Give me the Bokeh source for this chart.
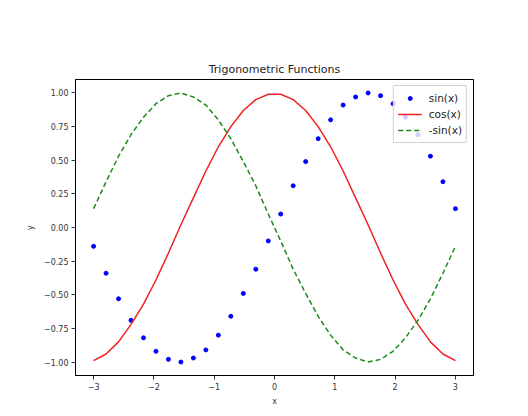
from bokeh.plotting import figure
from bokeh.models import ColumnDataSource, FixedTicker, CustomJSTickFormatter, Legend, LegendItem, Range1d
from bokeh.embed import file_html
from bokeh.resources import INLINE

x_vals = [-3.000, -2.793, -2.586, -2.379, -2.172, -1.966, -1.759, -1.552, -1.345, -1.138,
          -0.931, -0.724, -0.517, -0.310, -0.103, 0.103, 0.310, 0.517, 0.724, 0.931,
          1.138, 1.345, 1.552, 1.759, 1.966, 2.172, 2.379, 2.586, 2.793, 3.000]
sin_vals = [-0.14, -0.34, -0.53, -0.69, -0.82, -0.92, -0.98, -1.00, -0.97, -0.91,
            -0.80, -0.66, -0.49, -0.31, -0.10, 0.10, 0.31, 0.49, 0.66, 0.80,
            0.91, 0.97, 1.00, 0.98, 0.92, 0.82, 0.69, 0.53, 0.34, 0.14]
cos_vals = [-0.99, -0.94, -0.85, -0.72, -0.57, -0.39, -0.19, 0.02, 0.22, 0.42,
            0.60, 0.75, 0.87, 0.95, 0.99, 0.99, 0.95, 0.87, 0.75, 0.60,
            0.42, 0.22, 0.02, -0.19, -0.39, -0.57, -0.72, -0.85, -0.94, -0.99]
neg_sin_vals = [0.14, 0.34, 0.53, 0.69, 0.82, 0.92, 0.98, 1.00, 0.97, 0.91,
                0.80, 0.66, 0.49, 0.31, 0.10, -0.10, -0.31, -0.49, -0.66, -0.80,
                -0.91, -0.97, -1.00, -0.98, -0.92, -0.82, -0.69, -0.53, -0.34, -0.14]
series_labels = ["sin(x)", "cos(x)", "-sin(x)"]
x_ticks = [-3, -2, -1, 0, 1, 2, 3]
y_ticks = [-1.0, -0.75, -0.5, -0.25, 0.0, 0.25, 0.5, 0.75, 1.0]

src = ColumnDataSource(dict(x=x_vals, s=sin_vals, c=cos_vals, ns=neg_sin_vals))

FONT = "DejaVu Sans"
p = figure(width=520, height=408, output_backend="svg", toolbar_location=None,
           x_range=Range1d(-3.3, 3.3), y_range=Range1d(-1.1, 1.1),
           min_border_left=75, min_border_right=47, min_border_top=79, min_border_bottom=33,
           title="Trigonometric Functions")
p.background_fill_color = "white"
p.border_fill_color = "white"
p.outline_line_color = "black"
p.outline_line_width = 1
p.grid.visible = False

p.title.align = "center"
p.title.text_font = FONT
p.title.text_font_size = "11px"
p.title.text_font_style = "normal"
p.title.text_color = "#222222"
p.title.standoff = 7

r_sin = p.scatter("x", "s", source=src, size=4, color="#0000ff")
r_cos = p.line("x", "c", source=src, line_color="#ee2222", line_width=1.5)
r_nsin = p.line("x", "ns", source=src, line_color="#1a8a1a", line_width=1.5, line_dash="5 3")

for ax in (p.xaxis[0], p.yaxis[0]):
    ax.major_label_text_font = FONT
    ax.major_label_text_font_size = "8px"
    ax.major_label_text_color = "#333333"
    ax.axis_label_text_font = FONT
    ax.axis_label_text_font_size = "8px"
    ax.axis_label_text_font_style = "normal"
    ax.axis_label_text_color = "#333333"
    ax.minor_tick_line_color = None
    ax.major_tick_out = 4
    ax.major_tick_in = 0
    ax.major_tick_line_color = "#333333"
    ax.axis_line_color = "black"
    ax.major_label_standoff = 3

p.xaxis[0].ticker = FixedTicker(ticks=x_ticks)
p.yaxis[0].ticker = FixedTicker(ticks=y_ticks)
p.xaxis[0].formatter = CustomJSTickFormatter(code="return tick.toFixed(0).replace('-', '\u2212');")
p.yaxis[0].formatter = CustomJSTickFormatter(code="return tick.toFixed(2).replace('-', '\u2212');")
p.xaxis[0].axis_label = "x"
p.yaxis[0].axis_label = "y"
p.xaxis[0].axis_label_standoff = 4
p.yaxis[0].axis_label_standoff = 6

legend = Legend(items=[LegendItem(label=series_labels[0], renderers=[r_sin]),
                       LegendItem(label=series_labels[1], renderers=[r_cos]),
                       LegendItem(label=series_labels[2], renderers=[r_nsin])],
                location="top_right")
legend.margin = 6
legend.padding = 4
legend.spacing = 0
legend.glyph_width = 24
legend.glyph_height = 10
legend.label_height = 16
legend.label_standoff = 7
legend.label_text_font = FONT
legend.label_text_font_size = "10.5px"
legend.label_text_color = "#222222"
legend.border_line_color = "#cccccc"
legend.border_line_alpha = 0.9
legend.background_fill_alpha = 0.8
legend.border_radius = 2
p.add_layout(legend)

open("out.html", "w").write(file_html(p, INLINE))
